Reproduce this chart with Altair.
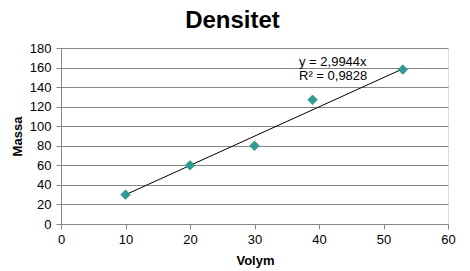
import altair as alt
import pandas as pd

volym = [10, 20, 30, 39, 53]
massa = [30, 60, 80, 127, 158]
slope = 2.9944
r2 = 0.9828
trend_x = [10, 53]
ann_x = 36.9
ann_y = 161.5
ann_lines = ["y = 2,9944x", "R² = 0,9828"]
x_ticks = [0, 10, 20, 30, 40, 50, 60]
y_ticks = [0, 20, 40, 60, 80, 100, 120, 140, 160, 180]

pts = pd.DataFrame({"Volym": volym, "Massa": massa})
trend = pd.DataFrame({"Volym": trend_x, "Massa": [slope * x for x in trend_x]})
ann = pd.DataFrame({"Volym": [ann_x], "Massa": [ann_y], "t": [ann_lines]})

FONT = "Liberation Sans"
GRAY = "#868686"

xs = alt.Scale(domain=[0, 60], nice=False)
ys = alt.Scale(domain=[0, 180], nice=False)

xaxis = alt.Axis(values=x_ticks, grid=False, domainColor=GRAY, tickColor=GRAY,
                 tickSize=5, labelFontSize=13, labelFont=FONT, labelColor="#000000", labelPadding=4,
                 labelOverlap=False, labelFlush=False,
                 title="Volym", titleFont=FONT, titleFontSize=13, titleFontWeight="bold",
                 titleColor="#000000", titleX=194, titleY=36, titleBaseline="middle", titleAlign="center")
yaxis = alt.Axis(values=y_ticks, grid=True, gridColor=GRAY, domainColor=GRAY,
                 tickColor=GRAY, tickSize=5, labelFontSize=13, labelFont=FONT, labelColor="#000000",
                 labelPadding=5, labelOverlap=False, labelFlush=False,
                 title="Massa", titleFont=FONT, titleFontSize=13, titleFontWeight="bold",
                 titleColor="#000000", titleX=-44, titleY=88, titleAngle=-90, titleBaseline="middle",
                 titleAlign="center")

X = alt.X("Volym:Q", scale=xs, axis=xaxis)
Y = alt.Y("Massa:Q", scale=ys, axis=yaxis)

line = alt.Chart(trend).mark_line(color="#000000", strokeWidth=1).encode(x=X, y=Y)
points = alt.Chart(pts).mark_point(shape="diamond", filled=True, size=95, color="#2E9A91",
                                   stroke="#26857D", strokeWidth=0.5, opacity=1).encode(x=X, y=Y)
text = alt.Chart(ann).mark_text(align="left", baseline="alphabetic", font=FONT, fontSize=13,
                                lineHeight=14, color="#000000").encode(x=X, y=Y, text="t")

chart = alt.layer(line, points, text).properties(
    width=387, height=176,
    title=alt.TitleParams("Densitet", font=FONT, fontSize=24, fontWeight="bold", color="#000000",
                          anchor="middle", dx=-22, offset=9),
    autosize=alt.AutoSizeParams(type="none"),
    padding={"left": 61, "top": 48, "right": 22, "bottom": 47},
).configure_view(stroke=None).configure(background="white")

chart.save("out.html", embed_options={"renderer": "svg", "actions": False})
